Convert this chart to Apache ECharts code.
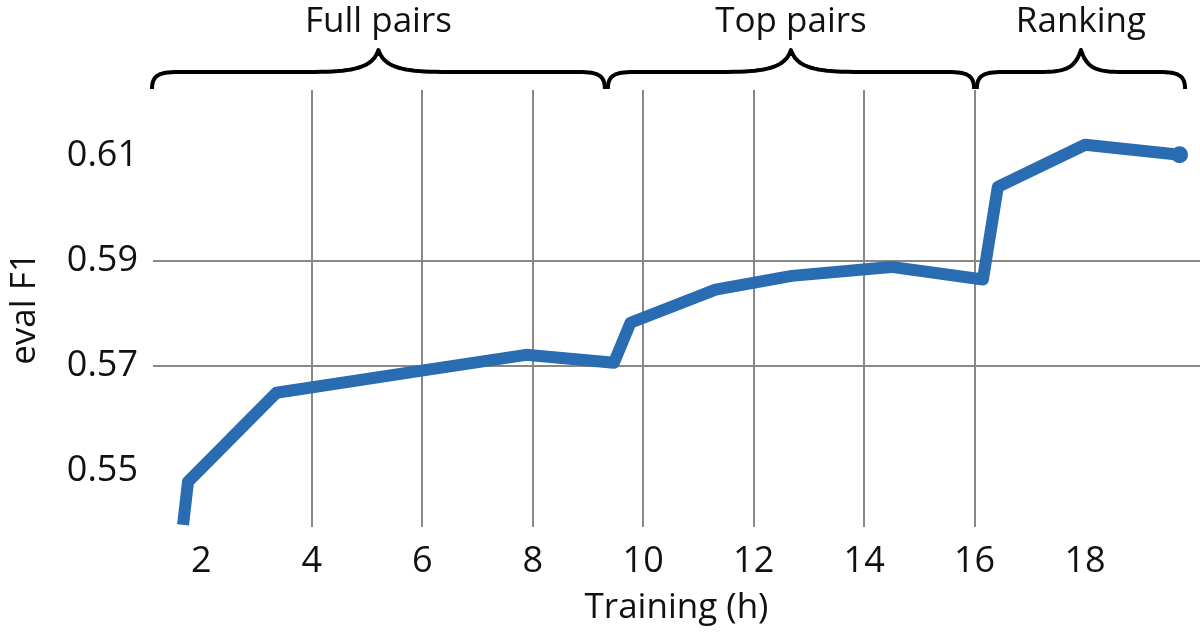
<!DOCTYPE html>
<html>
<head>
<meta charset="utf-8">
<style>
html,body{margin:0;padding:0;background:#fff;}
#chart{width:1200px;height:638px;}
</style>
<script src="https://cdn.jsdelivr.net/npm/echarts@6/dist/echarts.min.js"></script>
</head>
<body>
<div id="chart"></div>
<script>
// ---- data ----
const hours = [1.67, 1.76, 3.36, 5.99, 7.88, 9.47, 9.77, 11.31, 12.69, 14.49, 16.15, 16.42, 18.0, 19.71];
const evalF1 = [0.5398, 0.5480, 0.5649, 0.5691, 0.5721, 0.5706, 0.5782, 0.5845, 0.5871, 0.5888, 0.5864, 0.6040, 0.6120, 0.6101];
const xTicks = [2, 4, 6, 8, 10, 12, 14, 16, 18];
const yTicks = [0.55, 0.57, 0.59, 0.61];
const phaseLabels = ['Full pairs', 'Top pairs', 'Ranking'];
const phaseStart = [1.108, 9.36, 16.04];
const phaseEnd = [9.306, 15.99, 19.81];

const FONT = 'Open Sans';
const chart = echarts.init(document.getElementById('chart'));

const seriesData = hours.map((h, i) => {
  const item = { value: [h, evalF1[i]] };
  if (i === hours.length - 1) { item.symbol = 'circle'; item.symbolSize = 17; }
  return item;
});

const gridColor = '#8a8787';

chart.setOption({
  animation: false,
  backgroundColor: '#fff',
  grid: { left: 148, right: 0, top: 90, bottom: 111, containLabel: false },
  xAxis: {
    type: 'value',
    min: 1.126, max: 20.08,
    name: 'Training (h)',
    nameLocation: 'middle',
    nameGap: 64,
    nameTextStyle: { fontFamily: FONT, fontSize: 35, color: '#111' },
    axisLine: { show: false },
    axisTick: { show: false, customValues: xTicks },
    axisLabel: { customValues: xTicks, fontFamily: FONT, fontSize: 36, color: '#111', margin: 17 },
    splitLine: { show: true, showMinLine: false, showMaxLine: false, lineStyle: { color: gridColor, width: 2 } }
  },
  yAxis: {
    type: 'value',
    min: 0.5394, max: 0.6224,
    name: 'eval F1',
    nameLocation: 'middle',
    nameGap: 110,
    nameRotate: 90,
    nameTextStyle: { fontFamily: FONT, fontSize: 35, color: '#111' },
    axisLine: { show: false },
    axisTick: { show: false, customValues: yTicks },
    axisLabel: { customValues: yTicks, fontFamily: FONT, fontSize: 36, color: '#111', margin: 15,
      formatter: v => v.toFixed(2) },
    splitLine: { show: true, showMinLine: false, showMaxLine: false, lineStyle: { color: gridColor, width: 2 } }
  },
  series: [{
    type: 'line',
    data: seriesData,
    symbol: 'none',
    showSymbol: true,
    lineStyle: { color: '#2a6cb1', width: 12, cap: 'butt', join: 'round' },
    itemStyle: { color: '#2a6cb1' },
    clip: false
  }]
});

// ---- braces above the plot, placed via the x scale ----
function cubic(p0, p1, p2, p3, n, out) {
  for (let k = 1; k <= n; k++) {
    const t = k / n, u = 1 - t;
    out.push([
      u*u*u*p0[0] + 3*u*u*t*p1[0] + 3*u*t*t*p2[0] + t*t*t*p3[0],
      u*u*u*p0[1] + 3*u*u*t*p1[1] + 3*u*t*t*p2[1] + t*t*t*p3[1]
    ]);
  }
}
function bracePoints(x0, x1, yb, yh, yt) {
  const m = (x0 + x1) / 2;
  const w = Math.min(70, (x1 - x0) * 0.2);
  const r = 26;
  const pts = [[x0, yb]];
  cubic([x0, yb], [x0, yh + 4], [x0 + 6, yh], [x0 + r, yh], 16, pts);
  pts.push([m - w, yh]);
  cubic([m - w, yh], [m - w * 0.35, yh], [m - 6, yh - 4], [m, yt], 20, pts);
  cubic([m, yt], [m + 6, yh - 4], [m + w * 0.35, yh], [m + w, yh], 20, pts);
  pts.push([x1 - r, yh]);
  cubic([x1 - r, yh], [x1 - 6, yh], [x1, yh + 4], [x1, yb], 16, pts);
  return pts;
}

const graphics = [];
phaseLabels.forEach((lab, i) => {
  const x0 = chart.convertToPixel({ xAxisIndex: 0 }, phaseStart[i]);
  const x1 = chart.convertToPixel({ xAxisIndex: 0 }, phaseEnd[i]);
  graphics.push({
    type: 'polyline',
    shape: { points: bracePoints(x0, x1, 89, 72, 50) },
    style: { fill: null, stroke: '#000', lineWidth: 4, lineJoin: 'round' }
  });
  graphics.push({
    type: 'text',
    x: (x0 + x1) / 2, y: 22,
    style: { text: lab, fontFamily: FONT, fontSize: 35, fill: '#111', align: 'center', verticalAlign: 'middle' }
  });
});
chart.setOption({ graphic: graphics });
</script>
</body>
</html>
